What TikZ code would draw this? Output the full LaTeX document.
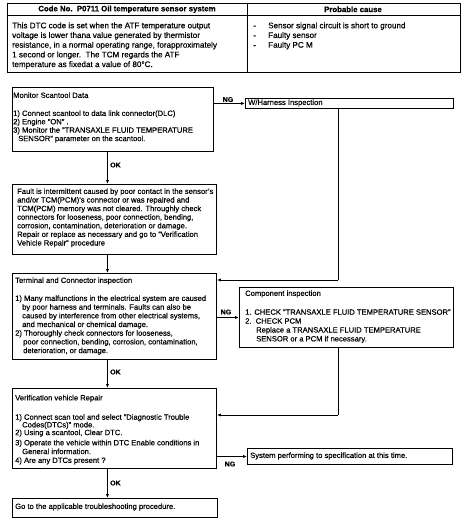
\documentclass[tikz,border=0pt]{standalone}
\usepackage{fontspec}
\setmainfont{Liberation Sans}[FakeBold=0.4]
\usetikzlibrary{arrows.meta}
\tikzset{
  box/.style={draw, line width=0.9pt, inner sep=0pt, anchor=north west},
  txt/.style={inner sep=0pt, anchor=north west, align=left, font=\fontsize{7.6}{8.6}\selectfont},
  ttl/.style={inner sep=0pt, anchor=north west, align=left, font=\fontsize{7.6}{8.6}\selectfont},
  one/.style={inner sep=0pt, anchor=west, font=\fontsize{7.6}{8}\selectfont},
  lbl/.style={inner sep=0pt, font=\bfseries\fontsize{7}{7}\selectfont},
  arr/.style={line width=0.8pt, -{Latex[length=4pt,width=3.2pt]}},
  ln/.style={line width=0.8pt},
}
\newcommand{\dashitem}{\makebox[15pt][l]{\bfseries -}}
\begin{document}
\begin{tikzpicture}[x=1pt,y=-1pt]
\path[use as bounding box] (0,0) rectangle (474,527);
% table
\node[box, minimum width=453pt, minimum height=69pt] (tab) at (7,3) {};
\draw[ln] (tab.north west |- 0,15) coordinate (hl) -- (tab.north east |- 0,15) coordinate (hr);
\draw[ln] (247,0 |- tab.north) coordinate (vt) -- (247,0 |- tab.south) coordinate (vb);
\node[lbl, font=\bfseries\fontsize{7.8}{8}\selectfont] (h1) at (127,9.3) {Code No.\ \ P0711 Oil temperature sensor system};
\node[lbl, font=\bfseries\fontsize{7.8}{8}\selectfont] (h2) at (353,9.3) {Probable cause};
\node[txt, font=\fontsize{8.1}{9.7}\selectfont] (d1) at (12,22.2) {This DTC code is set when the ATF temperature output\\
voltage is lower thana value generated by thermistor\\
resistance, in a normal operating range, forapproximately\\
1 second or longer.\ \ The TCM regards the ATF\\
temperature as fixedat a value of 80\textdegree C.};
\node[txt, font=\fontsize{8.1}{9.7}\selectfont] (d3) at (253,22.2) {\dashitem Sensor signal circuit is short to ground\\
\dashitem Faulty sensor\\
\dashitem Faulty PC M};

% boxes
\node[box, minimum width=201pt, minimum height=64pt] (m) at (12,87) {};
\node[box, minimum width=208pt, minimum height=10pt] (h) at (245,98) {};
\node[box, minimum width=204pt, minimum height=70pt] (f) at (12,184) {};
\node[box, minimum width=204pt, minimum height=86pt] (t) at (12,273) {};
\node[box, minimum width=214pt, minimum height=60pt] (c) at (239,287) {};
\node[box, minimum width=204pt, minimum height=80pt] (v) at (12,388) {};
\node[box, minimum width=205pt, minimum height=16pt] (s) at (247,448) {};
\node[box, minimum width=205pt, minimum height=19pt] (g) at (12,498) {};

% box texts
\node[ttl] (mt) at (13,92.2) {Monitor Scantool Data};
\node[txt, font=\fontsize{7.6}{8.4}\selectfont] (mi) at (13,110.2) {1) Connect scantool to data link connector(DLC)\\
2) Engine "ON" .\\
3) Monitor the "TRANSAXLE FLUID TEMPERATURE\\
\hspace*{5pt}SENSOR" parameter on the scantool.};
\node[one] (ht) at (248,103) {W/Harness Inspection};
\node[txt] (ft) at (17,188.2) {Fault is intermittent caused by poor contact in the sensor's\\
and/or TCM(PCM)'s connector or was repaired and\\
TCM(PCM) memory was not cleared. Throughly check\\
connectors for looseness, poor connection, bending,\\
corrosion, contamination, deterioration or damage.\\
Repair or replace as necessary and go to "Verification\\
Vehicle Repair" procedure};
\node[ttl] (tt) at (15,277.2) {Terminal and Connector inspection};
\node[txt, font=\fontsize{7.6}{8.7}\selectfont] (ti) at (15,295.2) {1) Many malfunctions in the electrical system are caused\\
\hspace*{7pt}by poor harness and terminals. Faults can also be\\
\hspace*{7pt}caused by interference from other electrical systems,\\
\hspace*{7pt}and mechanical or chemical damage.\\
2) Thoroughly check connectors for looseness,\\
\hspace*{8pt}poor connection, bending, corrosion, contamination,\\
\hspace*{8pt}deterioration, or damage.};
\node[ttl] (ct) at (245,290.2) {Component inspection};
\node[txt, font=\fontsize{7.6}{8.9}\selectfont] (ci) at (245,309.2) {1. CHECK "TRANSAXLE FLUID TEMPERATURE SENSOR"\\
2.\ \ CHECK PCM\\
\hspace*{11pt}Replace a TRANSAXLE FLUID TEMPERATURE\\
\hspace*{11pt}SENSOR or a PCM if necessary.};
\node[ttl] (vt) at (15,394.7) {Verification vehicle Repair};
\node[txt, font=\fontsize{7.6}{7.7}\selectfont] (vi) at (15,414) {1) Connect scan tool and select "Diagnostic Trouble\\
\hspace*{7pt}Codes(DTCs)" mode.\\
2) Using a scantool, Clear DTC.};
\node[txt, font=\fontsize{7.6}{8.8}\selectfont] (vj) at (15,439.6) {3) Operate the vehicle within DTC Enable conditions in\\
\hspace*{7pt}General information.\\
4) Are any DTCs present ?};
\node[one] (st) at (250,456) {System performing to specification at this time.};
\node[one] (gt) at (15,507) {Go to the applicable troubleshooting procedure.};

% connectors
\draw[arr] (m.east |- h.west) -- (h.west);
\node[lbl] (ng1) at (228,99.5) {NG};
\draw[ln] ([xshift=-11pt]h.south) coordinate (hs) -- (hs |- 0,280) coordinate (hc);
\draw[arr] (hc) -- (hc -| t.east);
\draw[arr] ([xshift=-5.5pt]m.south) coordinate (ms) -- (ms |- f.north);
\node[lbl, anchor=west] (ok1) at (110,165) {OK};
\draw[arr] (ms |- f.south) -- (ms |- t.north);
\draw[arr] (t.east |- c.west) -- (c.west);
\node[lbl] (ng2) at (226,312) {NG};
\draw[ln] ([xshift=-8pt]c.south) coordinate (cs) -- (cs |- 0,415) coordinate (cc);
\draw[arr] (cc) -- (cc -| v.east);
\draw[arr] (ms |- t.south) -- (ms |- v.north);
\node[lbl, anchor=west] (ok2) at (110,372) {OK};
\draw[arr] (v.east |- s.west) -- (s.west);
\node[lbl] (ng3) at (230,464) {NG};
\draw[arr] (ms |- v.south) -- (ms |- g.north);
\node[lbl, anchor=west] (ok3) at (110,483) {OK};
\end{tikzpicture}
\end{document}
